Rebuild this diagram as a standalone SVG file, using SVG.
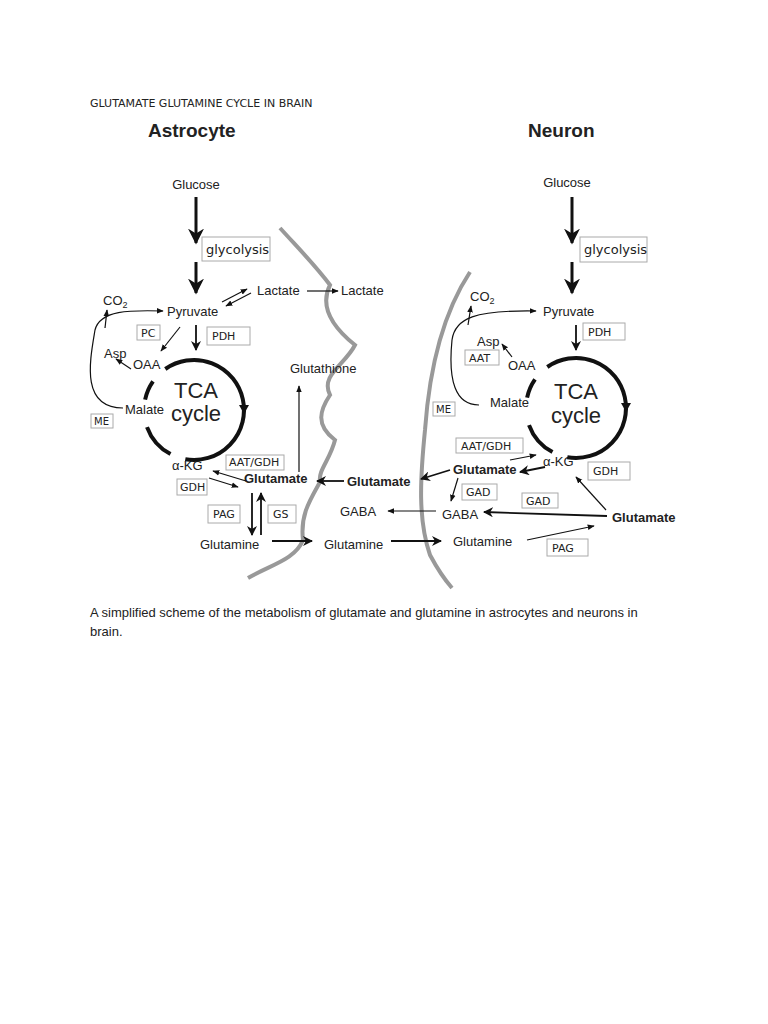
<svg xmlns="http://www.w3.org/2000/svg" width="768" height="1024" viewBox="0 0 768 1024">
<defs>
<marker id="a" viewBox="0 0 10 10" refX="9" refY="5" markerWidth="7" markerHeight="7" orient="auto" markerUnits="userSpaceOnUse"><path d="M0,1 L10,5 L0,9 Z" fill="#111"/></marker>
<marker id="b" viewBox="0 0 10 10" refX="9" refY="5" markerWidth="10" markerHeight="10" orient="auto" markerUnits="userSpaceOnUse"><path d="M0,0 L10,5 L0,10 L3,5 Z" fill="#111"/></marker>
<marker id="c" viewBox="0 0 10 10" refX="9" refY="5" markerWidth="16" markerHeight="16" orient="auto" markerUnits="userSpaceOnUse"><path d="M0,0 L10,5 L0,10 L3,5 Z" fill="#111"/></marker>
</defs>
<style>
text{font-family:"Liberation Sans",Arial,sans-serif;fill:#222}
.t{font-size:13px}
.h{font-size:19px;font-weight:bold}
.b{font-weight:bold}
.e{font-size:11px;font-family:"DejaVu Sans",sans-serif}
.box{fill:#fff;stroke:#aaa;stroke-width:1}
.l{stroke:#111;stroke-width:1.2;fill:none;marker-end:url(#a)}
.m{stroke:#111;stroke-width:1.8;fill:none;marker-end:url(#b)}
.k{stroke:#111;stroke-width:3;fill:none;marker-end:url(#c)}
.cyc{stroke:#111;stroke-width:4;fill:none}
.mem{stroke:#999;stroke-width:4;fill:none}
.cap{font-size:13px;font-family:"Liberation Sans",Arial,sans-serif}
</style>
<rect width="768" height="1024" fill="#fff"/>
<text x="90" y="107" style="font-size:11px;font-family:'DejaVu Sans',sans-serif">GLUTAMATE GLUTAMINE CYCLE IN BRAIN</text>
<g id="membranes">
<path class="mem" d="M280,228 C300,250 315,265 330,285 C320,305 330,325 355,345 C345,365 320,375 330,395 C320,410 315,425 335,440 C330,460 318,470 320,482 C310,500 300,515 303,540 C295,560 270,565 248,578"/>
<path class="mem" d="M470,272 C445,310 430,360 425,430 C420,480 418,520 430,555 C438,570 445,580 452,588"/>
</g>
<g id="labels">
<text x="148" y="137" class="h">Astrocyte</text>
<text x="528" y="137" class="h">Neuron</text>
</g>
<g id="astrocyte">
<text x="196" y="189" class="t" text-anchor="middle">Glucose</text>
<rect class="box" x="202" y="237" width="68" height="24"/><text x="206" y="254" class="e" style="font-size:13px">glycolysis</text>
<text x="167" y="316" class="t">Pyruvate</text>
<text x="103" y="305" class="t">CO<tspan font-size="9" dy="3">2</tspan></text>
<text x="257" y="295" class="t">Lactate</text>
<text x="341" y="295" class="t">Lactate</text>
<rect class="box" x="137" y="325" width="23" height="15"/><text x="141" y="337" class="e">PC</text>
<rect class="box" x="207" y="327" width="43" height="18"/><text x="212" y="340" class="e">PDH</text>
<text x="104" y="358" class="t">Asp</text>
<text x="133" y="369" class="t">OAA</text>
<text x="125" y="414" class="t">Malate</text>
<rect class="box" x="91" y="414" width="22" height="14"/><text x="94" y="425" class="e" style="font-size:10px">ME</text>
<text x="196" y="398" text-anchor="middle" style="font-size:22px">TCA</text>
<text x="196" y="421" text-anchor="middle" style="font-size:22px">cycle</text>
<text x="172" y="470" class="t">α-KG</text>
<rect class="box" x="226" y="455" width="58" height="15"/><text x="229" y="466" class="e">AAT/GDH</text>
<rect class="box" x="177" y="479" width="30" height="16"/><text x="180" y="491" class="e">GDH</text>
<text x="244" y="483" class="t b">Glutamate</text>
<text x="290" y="373" class="t">Glutathione</text>
<rect class="box" x="208" y="505" width="32" height="18"/><text x="213" y="518" class="e">PAG</text>
<rect class="box" x="268" y="505" width="28" height="18"/><text x="273" y="518" class="e">GS</text>
<text x="200" y="549" class="t">Glutamine</text>
</g>
<g id="middle">
<text x="347" y="486" class="t b">Glutamate</text>
<text x="340" y="516" class="t">GABA</text>
<text x="324" y="549" class="t">Glutamine</text>
</g>
<g id="neuron">
<text x="567" y="187" class="t" text-anchor="middle">Glucose</text>
<rect class="box" x="580" y="237" width="67" height="25"/><text x="584" y="254" class="e" style="font-size:13px">glycolysis</text>
<text x="543" y="316" class="t">Pyruvate</text>
<text x="470" y="301" class="t">CO<tspan font-size="9" dy="3">2</tspan></text>
<rect class="box" x="583" y="323" width="42" height="17"/><text x="588" y="336" class="e">PDH</text>
<text x="477" y="346" class="t">Asp</text>
<rect class="box" x="465" y="350" width="34" height="15"/><text x="469" y="362" class="e">AAT</text>
<text x="508" y="370" class="t">OAA</text>
<text x="490" y="407" class="t">Malate</text>
<rect class="box" x="433" y="402" width="22" height="14"/><text x="436" y="413" class="e" style="font-size:10px">ME</text>
<text x="576" y="399" text-anchor="middle" style="font-size:22px">TCA</text>
<text x="576" y="423" text-anchor="middle" style="font-size:22px">cycle</text>
<rect class="box" x="456" y="438" width="67" height="15"/><text x="461" y="450" class="e">AAT/GDH</text>
<text x="543" y="466" class="t">α-KG</text>
<rect class="box" x="588" y="462" width="42" height="18"/><text x="593" y="475" class="e">GDH</text>
<text x="453" y="474" class="t b">Glutamate</text>
<rect class="box" x="462" y="484" width="35" height="16"/><text x="466" y="496" class="e">GAD</text>
<text x="442" y="519" class="t">GABA</text>
<rect class="box" x="522" y="493" width="36" height="15"/><text x="526" y="505" class="e">GAD</text>
<text x="612" y="522" class="t b">Glutamate</text>
<text x="453" y="546" class="t">Glutamine</text>
<rect class="box" x="547" y="539" width="41" height="17"/><text x="552" y="552" class="e">PAG</text>
</g>
<g id="connectors">
<path class="cyc" d="M165.3,369 A50,50 0 1 1 185.3,459.2"/>
<path class="cyc" d="M153,381.3 A50,50 0 0 0 145.1,399.6"/>
<path class="cyc" d="M147,427.1 A50,50 0 0 0 170.5,454.1"/>
<path d="M239,405 L249,405 L244,414 Z" fill="#111"/>
<path class="cyc" d="M547.3,367 A50,50 0 1 1 567.3,457.2"/>
<path class="cyc" d="M535,379.3 A50,50 0 0 0 527.1,397.6"/>
<path class="cyc" d="M529,425.1 A50,50 0 0 0 552.5,452.1"/>
<path d="M621,403 L631,403 L626,412 Z" fill="#111"/>
<path class="k" d="M196,197 V243"/>
<path class="k" d="M196,262 V293"/>
<path class="l" d="M222,302 L247,289"/>
<path class="l" d="M251,293 L226,306"/>
<path class="l" d="M307,291 H338"/>
<path class="m" d="M196,325 V350"/>
<path class="l" d="M180,327 L161,351"/>
<path class="l" d="M131,369 L116,359"/>
<path class="l" d="M123,408 C80,408 90,360 95,330 C100,310 130,310 163,311"/>
<path class="l" d="M105,328 L107,310"/>
<path class="l" d="M246,481 L213,471"/>
<path class="l" d="M209,478 L238,487"/>
<path class="l" d="M299,472 V386"/>
<path class="m" d="M252,493 V535"/>
<path class="m" d="M261,535 V493"/>
<path class="m" d="M272,541 H312"/>
<path class="m" d="M344,481 H317"/>
<path class="m" d="M450,470 L421,479"/>
<path class="l" d="M436,511 H388"/>
<path class="m" d="M391,541 H441"/>
<path class="k" d="M572,197 V243"/>
<path class="k" d="M572,262 V293"/>
<path class="m" d="M576,325 V350"/>
<path class="l" d="M479,405 C455,405 448,380 452,340 C455,318 475,310 536,311"/>
<path class="l" d="M468,325 L471,306"/>
<path class="l" d="M512,357 L502,344"/>
<path class="l" d="M510,460 L536,455"/>
<path class="m" d="M545,467 L520,472"/>
<path class="l" d="M458,478 L451,501"/>
<path class="m" d="M607,516 L484,512"/>
<path class="l" d="M606,510 L576,477"/>
<path class="l" d="M527,540 L594,526"/>
</g>
<text x="90" y="617" class="cap">A simplified scheme of the metabolism of glutamate and glutamine in astrocytes and neurons in</text>
<text x="90" y="636" class="cap">brain.</text>
</svg>
